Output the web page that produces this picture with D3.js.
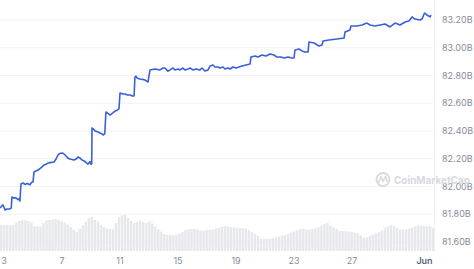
<!DOCTYPE html>
<html>
<head>
<meta charset="utf-8">
<script src="https://cdn.jsdelivr.net/npm/d3@7"></script>
<style>
  html, body { margin: 0; padding: 0; background: #fff; }
  svg { display: block; font-family: Inter, "Noto Sans", sans-serif; }
</style>
</head>
<body>
<svg id="svg" width="474" height="269"></svg>
<script>
// price points: [day of May, market cap in B]
const price = [
  [2.72, 81.845], [2.85, 81.86], [2.93, 81.867], [3.0, 81.85], [3.07, 81.831], [3.2, 81.838],
  [3.41, 81.838], [3.5, 81.845], [3.55, 81.924], [3.7, 81.915], [3.8, 81.92], [3.97, 81.905],
  [4.05, 81.912], [4.1, 81.896], [4.17, 82.018], [4.3, 82.025], [4.45, 82.015], [4.6, 82.022],
  [4.79, 82.012], [4.9, 82.03], [5.0, 82.032], [5.07, 82.105], [5.2, 82.112], [5.35, 82.119],
  [5.5, 82.13], [5.62, 82.141], [5.76, 82.155], [5.9, 82.16], [6.03, 82.169], [6.2, 82.172],
  [6.45, 82.177], [6.6, 82.2], [6.72, 82.227], [6.85, 82.238], [7.0, 82.241], [7.1, 82.238],
  [7.28, 82.22], [7.4, 82.205], [7.55, 82.198], [7.7, 82.195], [7.83, 82.191], [8.0, 82.2],
  [8.1, 82.213], [8.24, 82.205], [8.4, 82.19], [8.52, 82.184], [8.65, 82.175], [8.79, 82.16],
  [8.93, 82.18], [9.0, 82.16], [9.05, 82.165], [9.07, 82.422], [9.2, 82.41], [9.28, 82.40],
  [9.45, 82.395], [9.62, 82.386], [9.75, 82.38], [9.83, 82.371], [9.95, 82.38], [10.03, 82.537],
  [10.2, 82.525], [10.31, 82.515], [10.5, 82.53], [10.66, 82.544], [10.8, 82.55], [10.93, 82.559],
  [11.0, 82.674], [11.2, 82.667], [11.35, 82.667], [11.5, 82.66], [11.69, 82.659], [11.85, 82.652],
  [11.97, 82.652], [12.03, 82.789], [12.1, 82.795], [12.2, 82.78], [12.38, 82.775], [12.55, 82.772],
  [12.72, 82.768], [12.93, 82.753], [13.07, 82.84], [13.41, 82.847], [13.76, 82.84], [13.97, 82.854],
  [14.1, 82.854], [14.31, 82.832], [14.45, 82.84], [14.66, 82.854], [14.79, 82.84], [15.0, 82.847],
  [15.14, 82.84], [15.34, 82.854], [15.48, 82.84], [15.69, 82.847], [15.83, 82.854], [16.03, 82.84],
  [16.24, 82.847], [16.52, 82.84], [16.66, 82.854], [16.86, 82.832], [17.07, 82.84], [17.21, 82.868],
  [17.41, 82.876], [17.55, 82.861], [17.76, 82.861], [17.9, 82.854], [18.1, 82.861], [18.24, 82.847],
  [18.45, 82.854], [18.59, 82.847], [18.79, 82.861], [19.0, 82.854], [19.41, 82.868], [19.69, 82.876],
  [19.97, 82.883], [20.03, 82.933], [20.31, 82.941], [20.52, 82.933], [20.79, 82.948], [21.07, 82.941],
  [21.34, 82.955], [21.62, 82.948], [21.83, 82.933], [22.1, 82.933], [22.31, 82.926], [22.59, 82.933],
  [22.86, 82.926], [23.0, 82.926], [23.07, 82.984], [23.34, 82.991], [23.55, 82.977], [23.76, 82.969],
  [23.97, 82.969], [24.03, 83.041], [24.38, 83.034], [24.72, 83.013], [24.93, 83.02], [25.0, 83.049],
  [25.41, 83.056], [25.97, 83.063], [26.45, 83.07], [26.52, 83.114], [26.86, 83.128], [26.93, 83.157],
  [27.34, 83.157], [27.69, 83.164], [28.03, 83.178], [28.24, 83.164], [28.59, 83.157], [28.93, 83.164],
  [29.28, 83.171], [29.62, 83.15], [29.97, 83.178], [30.31, 83.164], [30.66, 83.186], [30.93, 83.193],
  [31.14, 83.222], [31.34, 83.207], [31.69, 83.2], [31.83, 83.207], [31.97, 83.243], [32.03, 83.25],
  [32.17, 83.236], [32.38, 83.222], [32.45, 83.236]
];

// volume bars (B), one every 5 hours from the first point
const volume = [
  26, 26, 26, 25.5, 26, 28.5, 30, 31, 31, 30, 28.5, 25, 24.5, 24.5, 28, 30.5,
  31, 31.5, 32, 31, 30, 28.5, 26.5, 24, 21.5, 19, 22, 25.5, 29, 33, 34, 31,
  29.5, 26, 24, 22.5, 22, 21.5, 28, 33.5, 35.5, 36, 32.5, 30, 28, 29, 30.5, 29,
  28, 29.5, 27.5, 24.5, 21.5, 19.5, 17, 16, 16, 15.7, 16.5, 17.5, 19, 21, 21.8, 22,
  22.3, 21.5, 20.5, 20.5, 21, 21, 21.5, 22.5, 23, 24, 24.7, 24.5, 24, 23.8, 23.5, 23,
  22.8, 22.3, 21, 19, 17, 15, 12.5, 12.3, 12.3, 12.3, 12.8, 13.7, 14.5, 15.3, 16, 17,
  18.3, 19.5, 20.5, 21.8, 22.2, 21.5, 21.3, 22, 22.7, 23.8, 25.5, 27.2, 28, 25.5, 23.8, 22,
  20.3, 20, 19.8, 19.7, 19.2, 18.5, 17.7, 15.5, 13.5, 13.7, 15, 16.5, 17.7, 19, 20.5, 23.3,
  24.5, 25.8, 25.3, 23, 21.3, 21.3, 21.5, 22.5, 23.5, 24.7, 25.7, 25.2, 24.8, 24.7, 24.7, 23
];

const yTicks = [81.6, 81.8, 82.0, 82.2, 82.4, 82.6, 82.8, 83.0, 83.2];
const xTickDays = [3, 7, 11, 15, 19, 23, 27, 32];
const xTickLabels = ["3", "7", "11", "15", "19", "23", "27", "Jun"];

const base = new Date(2024, 4, 1).getTime();
const toDate = d => new Date(base + (d - 1) * 864e5);

let svg = d3.select("#svg");

let x = d3.scaleTime()
  .domain([toDate(2.724), toDate(32.517)])
  .range([0, 432]);

let y = d3.scaleLinear()
  .domain([81.6, 83.2])
  .range([242, 20]);

let yVol = d3.scaleLinear()
  .domain([0, 45])
  .range([251, 206]);

/* Grid lines */
svg.append("g")
  .selectAll("line")
  .data(yTicks)
  .join("line")
  .attr("x1", 0)
  .attr("x2", 432)
  .attr("y1", d => y(d))
  .attr("y2", d => y(d))
  .attr("stroke", "#f1f2f4")
  .attr("stroke-width", 1);

/* Right separator */
svg.append("line")
  .attr("x1", 434.5).attr("x2", 434.5)
  .attr("y1", 0).attr("y2", 252)
  .attr("stroke", "#f1f2f4");

/* Volume bars */
let step = 5 * 3600e3;
let t0 = toDate(2.724).getTime();
svg.append("g")
  .selectAll("rect")
  .data(volume)
  .join("rect")
  .attr("x", (d, i) => x(new Date(t0 + i * step)))
  .attr("width", (d, i) => x(new Date(t0 + step)) - x(new Date(t0)) - 0.6)
  .attr("y", d => yVol(d))
  .attr("height", d => yVol(0) - yVol(d))
  .attr("fill", "#e6e8ec");

/* Price line */
svg.append("path")
  .datum(price)
  .attr("fill", "none")
  .attr("stroke", "#3a5fdc")
  .attr("stroke-width", 1.6)
  .attr("stroke-linejoin", "round")
  .attr("d", d3.line()
    .x(d => x(toDate(d[0])))
    .y(d => y(d[1])));

/* Y axis labels */
svg.append("g")
  .selectAll("text")
  .data(yTicks)
  .join("text")
  .attr("x", 442)
  .attr("y", d => y(d) + 3.2)
  .attr("font-size", 9)
  .attr("fill", "#858d9c")
  .text(d => d.toFixed(2) + "B");

/* X axis labels */
svg.append("g")
  .selectAll("text")
  .data(xTickDays)
  .join("text")
  .attr("x", d => x(toDate(d)))
  .attr("y", 264)
  .attr("text-anchor", "middle")
  .attr("font-size", 9)
  .attr("font-weight", (d, i) => xTickLabels[i] === "Jun" ? 600 : 400)
  .attr("fill", (d, i) => xTickLabels[i] === "Jun" ? "#58667e" : "#858d9c")
  .text((d, i) => xTickLabels[i]);

/* Watermark */
let mark = svg.append("g").attr("opacity", 0.9);
mark.append("circle")
  .attr("cx", 383).attr("cy", 179.5).attr("r", 6.5)
  .attr("fill", "none").attr("stroke", "#d3d7de").attr("stroke-width", 1.8);
mark.append("path")
  .attr("d", "M378.5,183 L381,176.5 L383,181.5 L385.5,176.5 L387.5,182")
  .attr("fill", "none").attr("stroke", "#d3d7de").attr("stroke-width", 1.6)
  .attr("stroke-linejoin", "round");
mark.append("text")
  .attr("x", 394).attr("y", 184)
  .attr("font-size", 11)
  .attr("font-weight", 700)
  .attr("textLength", 76)
  .attr("lengthAdjust", "spacingAndGlyphs")
  .attr("fill", "#d3d7de")
  .text("CoinMarketCap");
</script>
</body>
</html>
